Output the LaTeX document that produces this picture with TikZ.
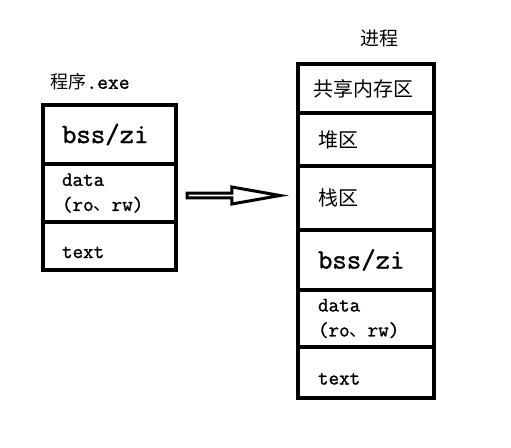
\documentclass[tikz,border=0pt]{standalone}
\usepackage{fontspec}
\setmonofont{Latin Modern Mono}[FakeBold=1.2]
\newfontfamily\cjk{Noto Sans CJK SC}
\usepackage{tikz}
\usetikzlibrary{positioning,shapes.arrows,calc}

\begin{document}
\begin{tikzpicture}[x=1pt,y=-1pt,node distance=0pt,
  every node/.style={font=\ttfamily},
  seg/.style={draw,line width=4.5pt,outer sep=0pt,inner ysep=0pt,align=left},
  lseg/.style={seg,minimum width=133pt,text width=95pt,inner xsep=19pt},
  rseg/.style={seg,minimum width=136pt,text width=96pt,inner xsep=20pt},
  big/.style={font=\ttfamily\fontsize{28}{30}\selectfont},
  small/.style={font=\ttfamily\fontsize{20.5}{25}\selectfont},
  low/.style={text height=24pt,text depth=0pt},
  zh/.style={font=\cjk\fontsize{20}{24}\selectfont}]
\useasboundingbox (0,0) rectangle (511,447);
% program file
\node[lseg,big,minimum height=59pt] (lbss) at (109.5,134.5) {bss/zi};
\node[lseg,small,minimum height=58pt,below=of lbss] (ldata) {data\\(ro{\cjk\fontsize{18}{25}\selectfont 、}rw)};
\node[lseg,small,low,minimum height=48pt,below=of ldata] (ltext) {text};
\node[font=\ttfamily\fontsize{21}{22}\selectfont] (lname) at (90,82) {{\cjk\fontsize{18}{22}\selectfont 程序}.exe};
% process
\node[rseg,zh,minimum height=49pt,text width=106pt,inner xsep=15pt] (rshm) at (366,88.5) {共享内存区};
\node[rseg,zh,minimum height=53pt,below=of rshm] (rheap) {堆区};
\node[rseg,zh,minimum height=64pt,below=of rheap] (rstack) {栈区};
\node[rseg,big,minimum height=60pt,below=of rstack] (rbss) {bss/zi};
\node[rseg,small,minimum height=57pt,below=of rbss] (rdata) {data\\(ro{\cjk\fontsize{18}{25}\selectfont 、}rw)};
\node[rseg,small,low,minimum height=51pt,below=of rdata] (rtext) {text};
\node[font=\cjk\fontsize{19}{22}\selectfont] (rname) at (379,38) {进程};
% mapping arrow
\node[single arrow,draw,line width=3pt,minimum height=93pt,minimum width=17pt,
  single arrow head extend=4pt,single arrow tip angle=20,inner sep=0pt,xshift=-10pt]
  (map) at ($(ldata.east)!0.5!(rstack.west)$) {};
\end{tikzpicture}
\end{document}
